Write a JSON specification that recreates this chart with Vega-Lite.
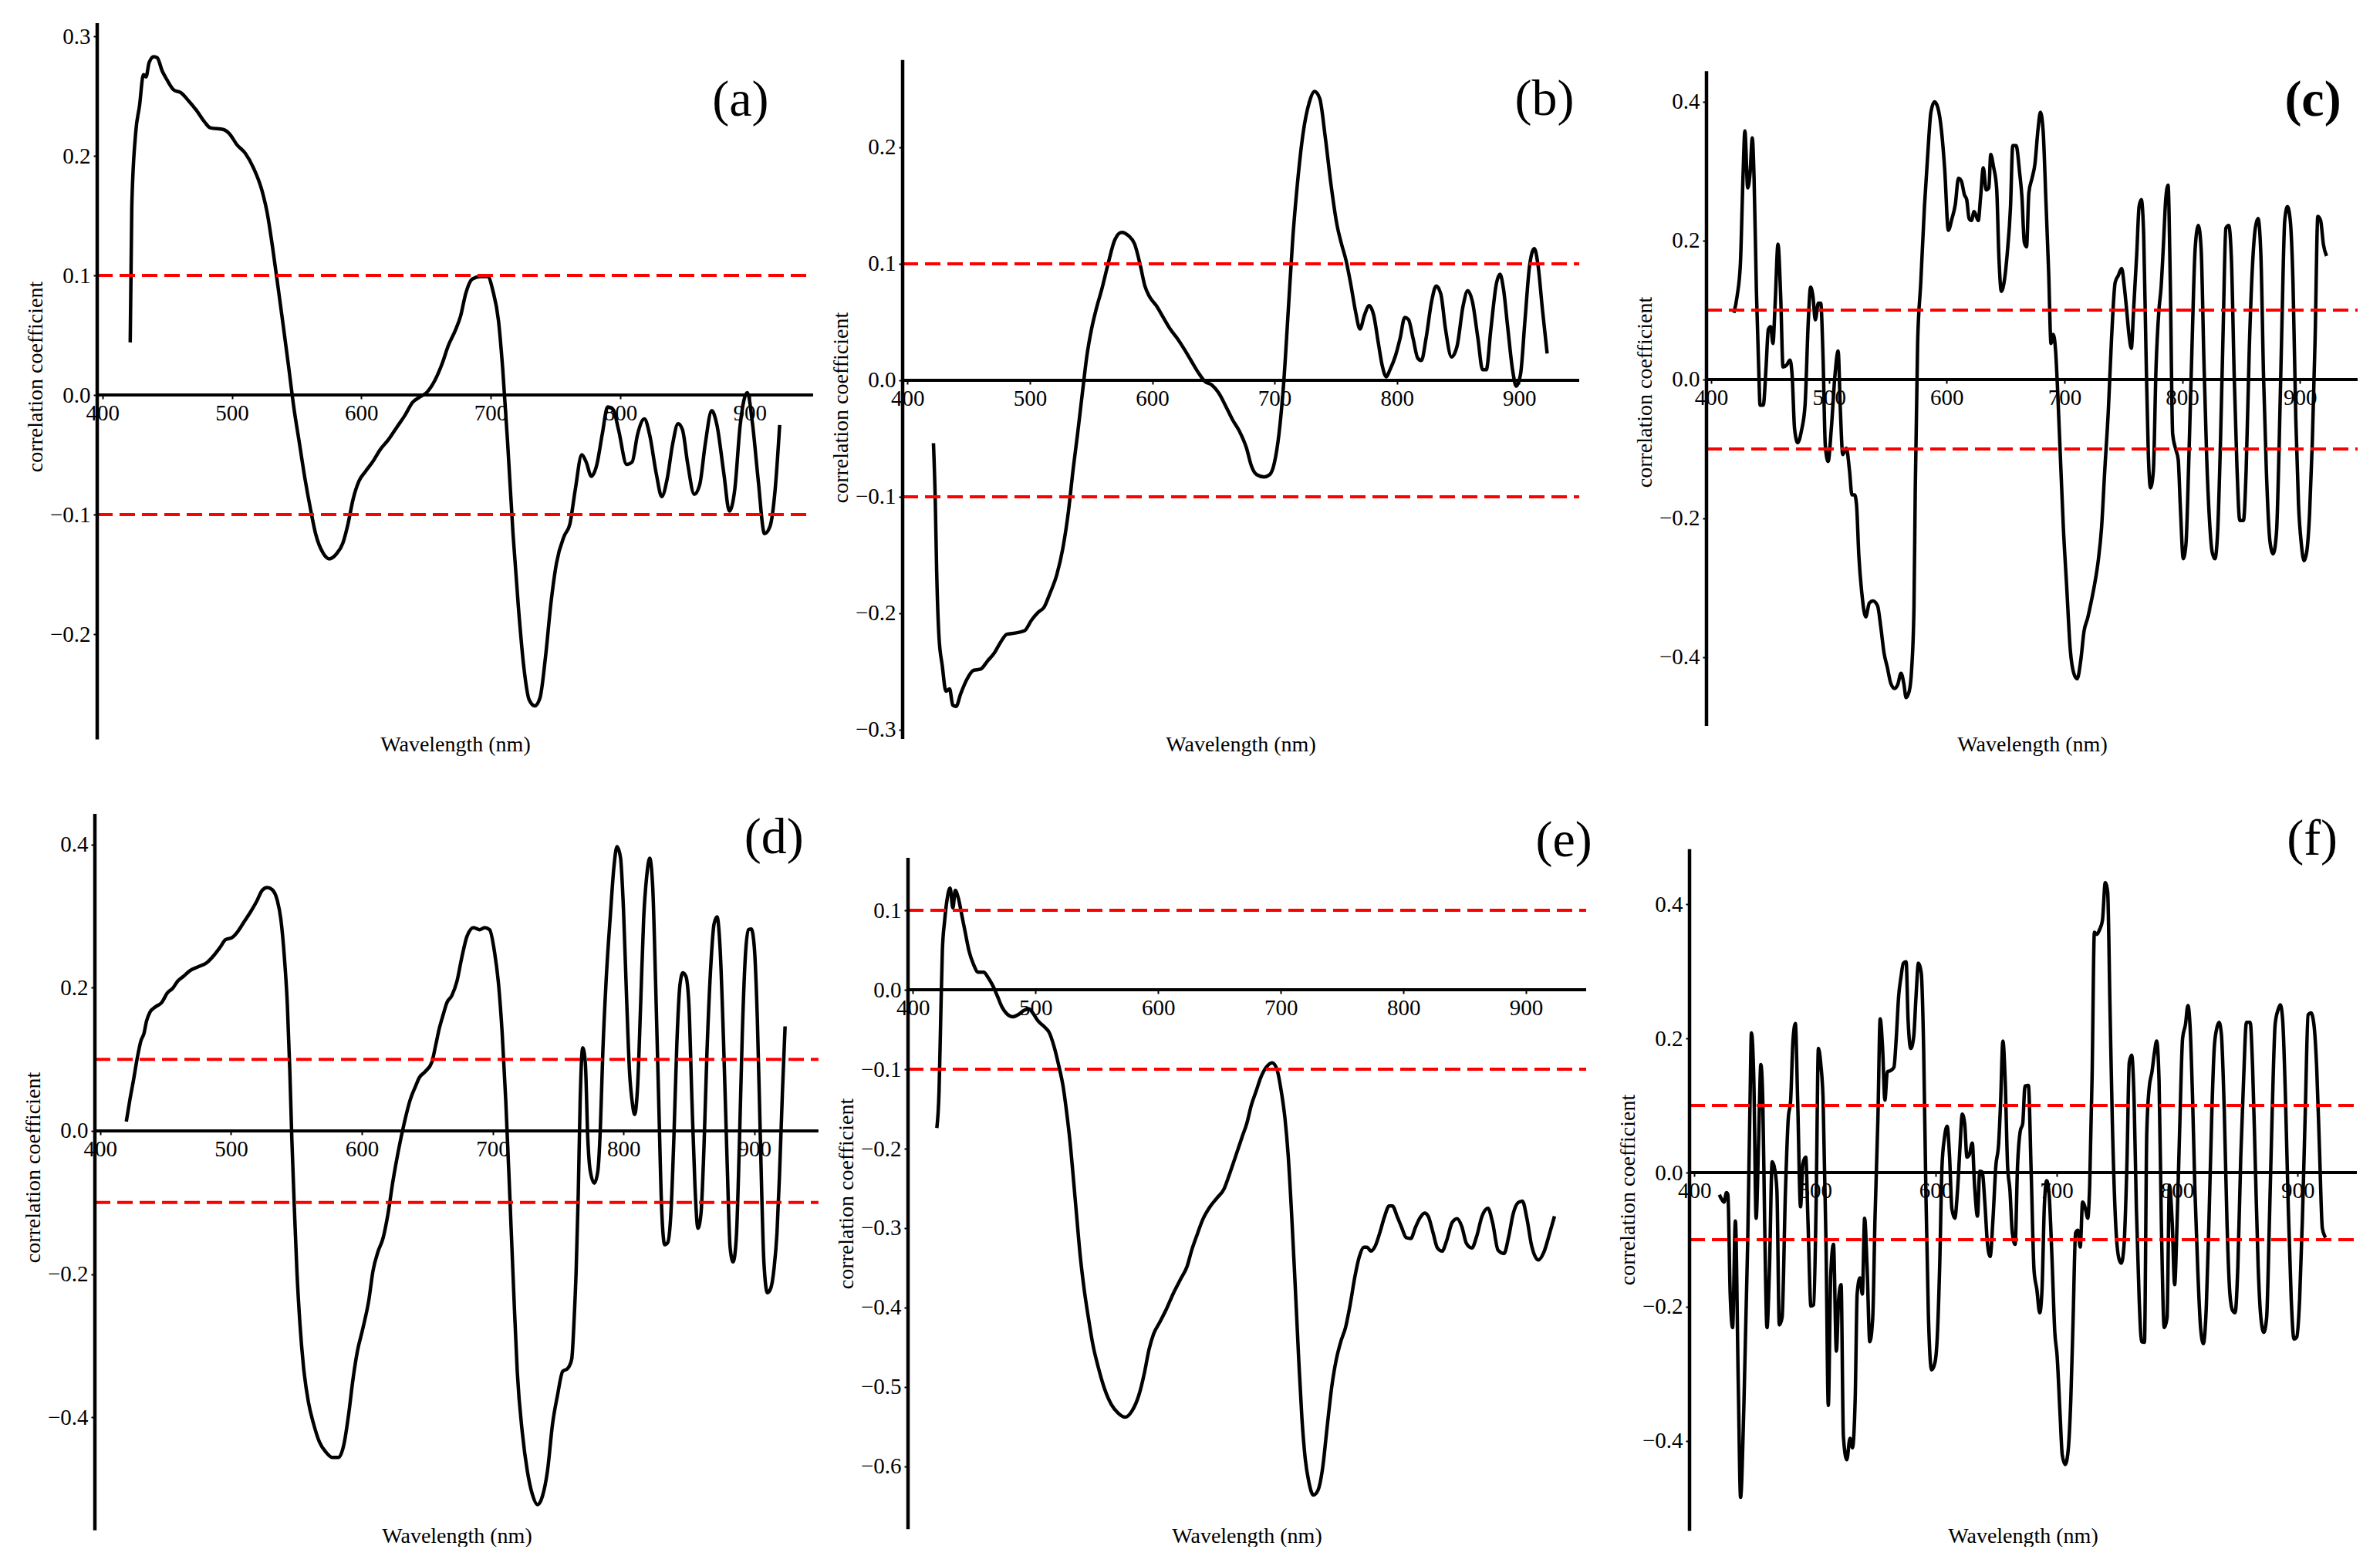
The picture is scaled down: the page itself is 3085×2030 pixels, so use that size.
{
  "$schema": "https://vega.github.io/schema/vega-lite/v6.json",
  "background": "white",
  "padding": {"left": 29, "top": 27, "right": 0, "bottom": 0},
  "columns": 3,
  "bounds": "flush",
  "spacing": {"row": 97, "column": 100},
  "datasets": {
    "a": [
      {"wl":421.5,"r":0.044},{"wl":422.7,"r":0.157},{"wl":425.7,"r":0.219},{"wl":428.7,"r":0.242},{"wl":431.7,"r":0.268},{"wl":433.7,"r":0.266},{"wl":436.1,"r":0.278},{"wl":439.7,"r":0.283},{"wl":442.4,"r":0.282},{"wl":446.2,"r":0.271},{"wl":449.7,"r":0.264},{"wl":455.3,"r":0.255},{"wl":460.4,"r":0.253},{"wl":466.6,"r":0.246},{"wl":472.7,"r":0.238},{"wl":479.2,"r":0.228},{"wl":483.3,"r":0.2235},{"wl":493.7,"r":0.222},{"wl":497.7,"r":0.219},{"wl":504.2,"r":0.209},{"wl":510.5,"r":0.202},{"wl":516.7,"r":0.19},{"wl":523,"r":0.172},{"wl":527.2,"r":0.153},{"wl":531.4,"r":0.124},{"wl":535.6,"r":0.091},{"wl":539.7,"r":0.058},{"wl":543.7,"r":0.025},{"wl":548.1,"r":-0.012},{"wl":552.3,"r":-0.041},{"wl":556.5,"r":-0.07},{"wl":560.7,"r":-0.095},{"wl":564.7,"r":-0.116},{"wl":570.4,"r":-0.132},{"wl":575.2,"r":-0.137},{"wl":580.7,"r":-0.133},{"wl":585.7,"r":-0.124},{"wl":589.7,"r":-0.108},{"wl":593.7,"r":-0.087},{"wl":598.2,"r":-0.072},{"wl":603.2,"r":-0.064},{"wl":608.7,"r":-0.056},{"wl":614.7,"r":-0.0455},{"wl":621.2,"r":-0.037},{"wl":627.4,"r":-0.027},{"wl":633.7,"r":-0.017},{"wl":639.7,"r":-0.006},{"wl":644.7,"r":-0.002},{"wl":650.4,"r":0.002},{"wl":656.7,"r":0.012},{"wl":662.7,"r":0.027},{"wl":667.1,"r":0.041},{"wl":672.6,"r":0.054},{"wl":676.7,"r":0.066},{"wl":680.7,"r":0.085},{"wl":685.7,"r":0.097},{"wl":692.2,"r":0.099},{"wl":697.7,"r":0.099},{"wl":701.7,"r":0.087},{"wl":706,"r":0.062},{"wl":709.3,"r":0.021},{"wl":713.1,"r":-0.041},{"wl":717.2,"r":-0.116},{"wl":721.4,"r":-0.178},{"wl":725.6,"r":-0.228},{"wl":729.7,"r":-0.255},{"wl":734,"r":-0.26},{"wl":738.1,"r":-0.253},{"wl":742.3,"r":-0.219},{"wl":746.5,"r":-0.174},{"wl":750.7,"r":-0.141},{"wl":756.7,"r":-0.118},{"wl":761.1,"r":-0.108},{"wl":765.3,"r":-0.079},{"wl":770.3,"r":-0.05},{"wl":773.7,"r":-0.056},{"wl":777.7,"r":-0.068},{"wl":782,"r":-0.058},{"wl":786.1,"r":-0.033},{"wl":790.3,"r":-0.01},{"wl":794.5,"r":-0.012},{"wl":798.7,"r":-0.029},{"wl":805,"r":-0.058},{"wl":809.2,"r":-0.056},{"wl":813.4,"r":-0.033},{"wl":818.7,"r":-0.02},{"wl":822.7,"r":-0.033},{"wl":827.9,"r":-0.066},{"wl":832.1,"r":-0.085},{"wl":836.3,"r":-0.07},{"wl":840.5,"r":-0.041},{"wl":844.7,"r":-0.024},{"wl":848.1,"r":-0.029},{"wl":852.2,"r":-0.058},{"wl":857.2,"r":-0.083},{"wl":861.4,"r":-0.075},{"wl":865.7,"r":-0.041},{"wl":870.7,"r":-0.013},{"wl":874.7,"r":-0.025},{"wl":880.1,"r":-0.066},{"wl":884.3,"r":-0.097},{"wl":888.5,"r":-0.079},{"wl":892.7,"r":-0.025},{"wl":898.2,"r":0.002},{"wl":902.3,"r":-0.025},{"wl":906.5,"r":-0.07},{"wl":911.5,"r":-0.116},{"wl":915.7,"r":-0.11},{"wl":919.7,"r":-0.079},{"wl":923.2,"r":-0.025}
    ],
    "b": [
      {"wl":421.2,"r":-0.054},{"wl":422.7,"r":-0.104},{"wl":423.8,"r":-0.163},{"wl":425.7,"r":-0.22},{"wl":428.4,"r":-0.245},{"wl":431.4,"r":-0.267},{"wl":434.4,"r":-0.265},{"wl":437,"r":-0.279},{"wl":439.7,"r":-0.28},{"wl":443.5,"r":-0.269},{"wl":448.4,"r":-0.257},{"wl":454,"r":-0.249},{"wl":459.7,"r":-0.248},{"wl":465.4,"r":-0.241},{"wl":471,"r":-0.234},{"wl":476,"r":-0.225},{"wl":481.3,"r":-0.218},{"wl":488,"r":-0.217},{"wl":495.7,"r":-0.215},{"wl":501.3,"r":-0.206},{"wl":507,"r":-0.199},{"wl":511.5,"r":-0.195},{"wl":516.4,"r":-0.183},{"wl":522,"r":-0.167},{"wl":527,"r":-0.144},{"wl":531.6,"r":-0.112},{"wl":535.3,"r":-0.077},{"wl":539,"r":-0.046},{"wl":542.9,"r":-0.011},{"wl":546.6,"r":0.021},{"wl":550.4,"r":0.044},{"wl":554.2,"r":0.061},{"wl":559,"r":0.079},{"wl":563.7,"r":0.099},{"wl":569.4,"r":0.1205},{"wl":575,"r":0.127},{"wl":580.7,"r":0.124},{"wl":585.6,"r":0.117},{"wl":590.2,"r":0.099},{"wl":594,"r":0.081},{"wl":597.7,"r":0.072},{"wl":603.4,"r":0.064},{"wl":609,"r":0.054},{"wl":614.7,"r":0.044},{"wl":620.4,"r":0.036},{"wl":626,"r":0.027},{"wl":631.7,"r":0.017},{"wl":637.4,"r":0.007},{"wl":643,"r":-0.001},{"wl":648.7,"r":-0.004},{"wl":654.4,"r":-0.011},{"wl":660,"r":-0.022},{"wl":665.7,"r":-0.034},{"wl":671.4,"r":-0.044},{"wl":677,"r":-0.058},{"wl":680.9,"r":-0.073},{"wl":685.4,"r":-0.081},{"wl":691.5,"r":-0.083},{"wl":696,"r":-0.081},{"wl":699.8,"r":-0.071},{"wl":703.6,"r":-0.046},{"wl":707.4,"r":-0.003},{"wl":711.2,"r":0.06},{"wl":714.9,"r":0.122},{"wl":718.7,"r":0.169},{"wl":723.3,"r":0.212},{"wl":728.2,"r":0.238},{"wl":732.7,"r":0.248},{"wl":736.9,"r":0.242},{"wl":741.4,"r":0.209},{"wl":746,"r":0.169},{"wl":750.9,"r":0.134},{"wl":754.7,"r":0.117},{"wl":758.4,"r":0.103},{"wl":762.2,"r":0.083},{"wl":766,"r":0.06},{"wl":769.8,"r":0.044},{"wl":773.5,"r":0.056},{"wl":777.3,"r":0.064},{"wl":781,"r":0.056},{"wl":784.8,"r":0.032},{"wl":787.9,"r":0.013},{"wl":791.3,"r":0.003},{"wl":794.3,"r":0.009},{"wl":798.8,"r":0.021},{"wl":802.6,"r":0.036},{"wl":806.4,"r":0.054},{"wl":809.5,"r":0.052},{"wl":813.2,"r":0.036},{"wl":817,"r":0.019},{"wl":820,"r":0.017},{"wl":823.8,"r":0.036},{"wl":828.4,"r":0.068},{"wl":832.1,"r":0.081},{"wl":835.9,"r":0.074},{"wl":839.7,"r":0.044},{"wl":844.6,"r":0.02},{"wl":849.1,"r":0.029},{"wl":854.1,"r":0.064},{"wl":857.9,"r":0.077},{"wl":861.6,"r":0.068},{"wl":866.2,"r":0.036},{"wl":870,"r":0.009},{"wl":873,"r":0.009},{"wl":876.8,"r":0.044},{"wl":881.3,"r":0.083},{"wl":884.3,"r":0.091},{"wl":887,"r":0.079},{"wl":890.7,"r":0.044},{"wl":894.5,"r":0.009},{"wl":897.5,"r":-0.005},{"wl":901,"r":0.005},{"wl":904.7,"r":0.052},{"wl":908.5,"r":0.099},{"wl":912.3,"r":0.113},{"wl":915.3,"r":0.099},{"wl":919,"r":0.06},{"wl":922.8,"r":0.023}
    ],
    "c": [
      {"wl":419.3,"r":0.096},{"wl":422,"r":0.12},{"wl":424.8,"r":0.167},{"wl":427.1,"r":0.297},{"wl":428.6,"r":0.358},{"wl":431,"r":0.276},{"wl":433,"r":0.297},{"wl":434.9,"r":0.348},{"wl":436.4,"r":0.29},{"wl":438.4,"r":0.127},{"wl":440.3,"r":0.018},{"wl":441.5,"r":-0.037},{"wl":444.2,"r":-0.037},{"wl":446.6,"r":0.018},{"wl":448.5,"r":0.072},{"wl":450.5,"r":0.076},{"wl":452.4,"r":0.052},{"wl":454.4,"r":0.113},{"wl":456.7,"r":0.195},{"wl":459,"r":0.12},{"wl":461,"r":0.018},{"wl":464.1,"r":0.021},{"wl":466.9,"r":0.028},{"wl":468.8,"r":0.004},{"wl":470.8,"r":-0.071},{"wl":473.5,"r":-0.091},{"wl":476.6,"r":-0.074},{"wl":479.7,"r":-0.037},{"wl":482.5,"r":0.086},{"wl":484.4,"r":0.133},{"wl":486.4,"r":0.12},{"wl":488.4,"r":0.086},{"wl":491,"r":0.11},{"wl":493,"r":0.11},{"wl":495,"r":0.031},{"wl":496.9,"r":-0.095},{"wl":499.3,"r":-0.118},{"wl":502,"r":-0.071},{"wl":505,"r":0.004},{"wl":507.8,"r":0.041},{"wl":509.7,"r":-0.044},{"wl":511.7,"r":-0.108},{"wl":514.8,"r":-0.099},{"wl":517.5,"r":-0.132},{"wl":519.5,"r":-0.166},{"wl":521.8,"r":-0.166},{"wl":523.4,"r":-0.18},{"wl":525.4,"r":-0.254},{"wl":528,"r":-0.309},{"wl":531.2,"r":-0.342},{"wl":534.3,"r":-0.322},{"wl":537.4,"r":-0.319},{"wl":541.3,"r":-0.326},{"wl":544,"r":-0.356},{"wl":546.8,"r":-0.394},{"wl":549.5,"r":-0.414},{"wl":552.6,"r":-0.438},{"wl":555.8,"r":-0.445},{"wl":558.5,"r":-0.439},{"wl":561.2,"r":-0.423},{"wl":563.6,"r":-0.438},{"wl":565.5,"r":-0.458},{"wl":568.3,"r":-0.448},{"wl":570.2,"r":-0.418},{"wl":572.2,"r":-0.329},{"wl":573.3,"r":-0.159},{"wl":575.3,"r":0.052},{"wl":578,"r":0.14},{"wl":581.1,"r":0.249},{"wl":583.9,"r":0.324},{"wl":586.6,"r":0.385},{"wl":589.7,"r":0.4},{"wl":592.4,"r":0.392},{"wl":595.6,"r":0.358},{"wl":598.3,"r":0.303},{"wl":601.4,"r":0.215},{"wl":604.5,"r":0.232},{"wl":607.3,"r":0.252},{"wl":610,"r":0.29},{"wl":612.4,"r":0.286},{"wl":615.1,"r":0.266},{"wl":617,"r":0.259},{"wl":619,"r":0.232},{"wl":621,"r":0.229},{"wl":623.3,"r":0.242},{"wl":626.8,"r":0.229},{"wl":628.8,"r":0.263},{"wl":631.1,"r":0.305},{"wl":633.5,"r":0.273},{"wl":635.8,"r":0.276},{"wl":637.4,"r":0.324},{"wl":639.7,"r":0.307},{"wl":642.4,"r":0.276},{"wl":644.4,"r":0.174},{"wl":646.4,"r":0.127},{"wl":649.1,"r":0.144},{"wl":651.4,"r":0.181},{"wl":654.2,"r":0.249},{"wl":656.1,"r":0.337},{"wl":658.9,"r":0.337},{"wl":662,"r":0.297},{"wl":663.9,"r":0.263},{"wl":665.9,"r":0.198},{"wl":667.8,"r":0.191},{"wl":669.8,"r":0.269},{"wl":672.5,"r":0.29},{"wl":674.9,"r":0.31},{"wl":677.6,"r":0.361},{"wl":679.6,"r":0.385},{"wl":681.9,"r":0.358},{"wl":684.3,"r":0.256},{"wl":686.6,"r":0.154},{"wl":688.6,"r":0.052},{"wl":690.5,"r":0.065},{"wl":692.5,"r":0.041},{"wl":694.4,"r":-0.023},{"wl":696.4,"r":-0.105},{"wl":699.1,"r":-0.214},{"wl":701.8,"r":-0.295},{"wl":705,"r":-0.39},{"wl":708.1,"r":-0.424},{"wl":710.8,"r":-0.431},{"wl":713.9,"r":-0.404},{"wl":716.6,"r":-0.363},{"wl":719.8,"r":-0.343},{"wl":722.5,"r":-0.322},{"wl":725.6,"r":-0.295},{"wl":728.7,"r":-0.261},{"wl":731.5,"r":-0.214},{"wl":734.2,"r":-0.132},{"wl":737.3,"r":-0.044},{"wl":740,"r":0.059},{"wl":743.1,"r":0.14},{"wl":745.8,"r":0.15},{"wl":748.6,"r":0.16},{"wl":750.9,"r":0.133},{"wl":752.9,"r":0.099},{"wl":754.8,"r":0.065},{"wl":756.8,"r":0.045},{"wl":758.7,"r":0.099},{"wl":761.4,"r":0.181},{"wl":763.4,"r":0.249},{"wl":765.3,"r":0.259},{"wl":767.3,"r":0.208},{"wl":769.2,"r":0.045},{"wl":771.2,"r":-0.105},{"wl":773.1,"r":-0.156},{"wl":775.5,"r":-0.132},{"wl":777.8,"r":0.018},{"wl":780.2,"r":0.099},{"wl":782.1,"r":0.133},{"wl":784.1,"r":0.195},{"wl":786,"r":0.259},{"wl":788,"r":0.28},{"wl":789.9,"r":0.14},{"wl":791.9,"r":-0.078},{"wl":794.6,"r":-0.101},{"wl":796.6,"r":-0.115},{"wl":798.5,"r":-0.186},{"wl":800.9,"r":-0.258},{"wl":803.2,"r":-0.237},{"wl":805.6,"r":-0.118},{"wl":808.3,"r":0.045},{"wl":811,"r":0.188},{"wl":813.7,"r":0.222},{"wl":816.1,"r":0.188},{"wl":818.4,"r":0.031},{"wl":820.8,"r":-0.112},{"wl":823.1,"r":-0.2},{"wl":825.4,"r":-0.248},{"wl":827.8,"r":-0.258},{"wl":830.1,"r":-0.22},{"wl":832.5,"r":-0.091},{"wl":834.8,"r":0.072},{"wl":837.1,"r":0.218},{"wl":839.5,"r":0.222},{"wl":841.8,"r":0.174},{"wl":844.2,"r":0.004},{"wl":846.5,"r":-0.125},{"wl":848.9,"r":-0.203},{"wl":852,"r":-0.203},{"wl":854.3,"r":-0.132},{"wl":857,"r":0.045},{"wl":859.8,"r":0.167},{"wl":862.1,"r":0.218},{"wl":864.4,"r":0.232},{"wl":866.8,"r":0.181},{"wl":869.1,"r":0.004},{"wl":871.5,"r":-0.132},{"wl":874.6,"r":-0.234},{"wl":877.3,"r":-0.251},{"wl":880.1,"r":-0.22},{"wl":882.4,"r":-0.091},{"wl":884.7,"r":0.079},{"wl":887.1,"r":0.229},{"wl":889.4,"r":0.249},{"wl":891.8,"r":0.229},{"wl":894.1,"r":0.14},{"wl":896.5,"r":-0.057},{"wl":898.8,"r":-0.18},{"wl":901.2,"r":-0.237},{"wl":903.5,"r":-0.261},{"wl":905.8,"r":-0.248},{"wl":908.2,"r":-0.193},{"wl":910.5,"r":-0.091},{"wl":912.9,"r":0.059},{"wl":915.2,"r":0.235},{"wl":917.6,"r":0.229},{"wl":919.9,"r":0.195},{"wl":922.6,"r":0.178}
    ],
    "d": [
      {"wl":420,"r":0.013},{"wl":422.7,"r":0.043},{"wl":425.4,"r":0.07},{"wl":428.5,"r":0.103},{"wl":431.2,"r":0.126},{"wl":433.5,"r":0.136},{"wl":435.4,"r":0.153},{"wl":438.1,"r":0.166},{"wl":442,"r":0.173},{"wl":446.9,"r":0.179},{"wl":451.5,"r":0.193},{"wl":455.4,"r":0.199},{"wl":459.2,"r":0.209},{"wl":463.8,"r":0.216},{"wl":468.8,"r":0.224},{"wl":474.6,"r":0.229},{"wl":481.5,"r":0.235},{"wl":487.3,"r":0.246},{"wl":491.9,"r":0.257},{"wl":495.8,"r":0.267},{"wl":500.8,"r":0.27},{"wl":505.4,"r":0.279},{"wl":510,"r":0.292},{"wl":515,"r":0.306},{"wl":520,"r":0.322},{"wl":523.8,"r":0.336},{"wl":527.7,"r":0.34},{"wl":531.5,"r":0.337},{"wl":535.4,"r":0.322},{"wl":538.1,"r":0.296},{"wl":540.8,"r":0.243},{"wl":543.1,"r":0.176},{"wl":545,"r":0.083},{"wl":546.5,"r":-0.01},{"wl":548.5,"r":-0.11},{"wl":550.4,"r":-0.196},{"wl":552.7,"r":-0.269},{"wl":555.4,"r":-0.329},{"wl":559.2,"r":-0.379},{"wl":563.1,"r":-0.409},{"wl":567.7,"r":-0.435},{"wl":572.7,"r":-0.449},{"wl":577.3,"r":-0.456},{"wl":582.3,"r":-0.456},{"wl":586.2,"r":-0.439},{"wl":590,"r":-0.395},{"wl":593.1,"r":-0.349},{"wl":596.5,"r":-0.309},{"wl":600.8,"r":-0.276},{"wl":605.4,"r":-0.236},{"wl":608.5,"r":-0.196},{"wl":612.3,"r":-0.169},{"wl":616.2,"r":-0.15},{"wl":620,"r":-0.116},{"wl":623.8,"r":-0.07},{"wl":627.7,"r":-0.03},{"wl":632.3,"r":0.01},{"wl":636.9,"r":0.043},{"wl":641.2,"r":0.063},{"wl":643.8,"r":0.074},{"wl":648.5,"r":0.083},{"wl":653.5,"r":0.096},{"wl":656.5,"r":0.12},{"wl":659.2,"r":0.143},{"wl":662.3,"r":0.163},{"wl":665,"r":0.179},{"wl":668.8,"r":0.189},{"wl":672.7,"r":0.209},{"wl":676.5,"r":0.243},{"wl":680.4,"r":0.272},{"wl":685.4,"r":0.284},{"wl":690,"r":0.281},{"wl":693.8,"r":0.284},{"wl":697.7,"r":0.281},{"wl":701.5,"r":0.249},{"wl":704.6,"r":0.203},{"wl":707.3,"r":0.136},{"wl":710,"r":0.043},{"wl":713.1,"r":-0.09},{"wl":716.2,"r":-0.229},{"wl":718.8,"r":-0.336},{"wl":722.7,"r":-0.422},{"wl":726.5,"r":-0.475},{"wl":730.4,"r":-0.508},{"wl":734.2,"r":-0.522},{"wl":738.1,"r":-0.51},{"wl":741.9,"r":-0.475},{"wl":745.8,"r":-0.409},{"wl":749.6,"r":-0.369},{"wl":753.5,"r":-0.336},{"wl":757.3,"r":-0.332},{"wl":760.4,"r":-0.319},{"wl":762.3,"r":-0.262},{"wl":763.8,"r":-0.196},{"wl":765.4,"r":-0.09},{"wl":766.9,"r":0.043},{"wl":768.8,"r":0.116},{"wl":770.8,"r":0.096},{"wl":772.7,"r":-0.01},{"wl":774.6,"r":-0.056},{"wl":777.7,"r":-0.073},{"wl":780.4,"r":-0.056},{"wl":782.3,"r":0.003},{"wl":784.2,"r":0.11},{"wl":786.9,"r":0.216},{"wl":790,"r":0.302},{"wl":792.7,"r":0.369},{"wl":795,"r":0.397},{"wl":797.7,"r":0.382},{"wl":800,"r":0.309},{"wl":802.3,"r":0.189},{"wl":804.6,"r":0.083},{"wl":806.9,"r":0.037},{"wl":808.5,"r":0.023},{"wl":810.8,"r":0.063},{"wl":813.1,"r":0.176},{"wl":815.4,"r":0.296},{"wl":817.7,"r":0.355},{"wl":820,"r":0.381},{"wl":822.3,"r":0.342},{"wl":824.6,"r":0.203},{"wl":826.9,"r":0.043},{"wl":829.2,"r":-0.11},{"wl":831.5,"r":-0.159},{"wl":833.8,"r":-0.156},{"wl":836.2,"r":-0.116},{"wl":838.5,"r":-0.01},{"wl":840.8,"r":0.123},{"wl":843.1,"r":0.203},{"wl":845.4,"r":0.221},{"wl":847.7,"r":0.216},{"wl":850,"r":0.176},{"wl":852.3,"r":0.043},{"wl":854.6,"r":-0.076},{"wl":856.9,"r":-0.136},{"wl":859.2,"r":-0.116},{"wl":861.5,"r":-0.023},{"wl":863.8,"r":0.11},{"wl":866.9,"r":0.236},{"wl":869.2,"r":0.289},{"wl":871.5,"r":0.299},{"wl":873.8,"r":0.256},{"wl":876.5,"r":0.123},{"wl":879.2,"r":-0.043},{"wl":881.5,"r":-0.163},{"wl":883.8,"r":-0.183},{"wl":886.2,"r":-0.15},{"wl":888.5,"r":-0.023},{"wl":890.8,"r":0.136},{"wl":893.1,"r":0.243},{"wl":895.4,"r":0.281},{"wl":897.7,"r":0.282},{"wl":900,"r":0.256},{"wl":902.3,"r":0.156},{"wl":904.6,"r":-0.01},{"wl":907.3,"r":-0.183},{"wl":910,"r":-0.226},{"wl":912.7,"r":-0.219},{"wl":915,"r":-0.193},{"wl":917.3,"r":-0.143},{"wl":919.2,"r":-0.063},{"wl":921.5,"r":0.056},{"wl":923.5,"r":0.146}
    ],
    "e": [
      {"wl":419.5,"r":-0.174},{"wl":421.3,"r":-0.128},{"wl":422.5,"r":-0.048},{"wl":424,"r":0.049},{"wl":425.8,"r":0.086},{"wl":427.7,"r":0.112},{"wl":430.3,"r":0.128},{"wl":432.6,"r":0.103},{"wl":434.5,"r":0.125},{"wl":437.1,"r":0.115},{"wl":440.1,"r":0.092},{"wl":442.7,"r":0.072},{"wl":445.7,"r":0.049},{"wl":449.4,"r":0.032},{"wl":453.2,"r":0.022},{"wl":457.7,"r":0.022},{"wl":461.4,"r":0.015},{"wl":465.2,"r":0.005},{"wl":468.9,"r":-0.008},{"wl":472.7,"r":-0.022},{"wl":476.4,"r":-0.03},{"wl":481.3,"r":-0.034},{"wl":486.1,"r":-0.031},{"wl":490.6,"r":-0.026},{"wl":494.4,"r":-0.024},{"wl":498.1,"r":-0.03},{"wl":501.9,"r":-0.039},{"wl":507.5,"r":-0.047},{"wl":511.2,"r":-0.054},{"wl":515,"r":-0.071},{"wl":518.7,"r":-0.094},{"wl":522.5,"r":-0.122},{"wl":525.5,"r":-0.156},{"wl":528.1,"r":-0.191},{"wl":531.1,"r":-0.242},{"wl":533.7,"r":-0.288},{"wl":536.3,"r":-0.333},{"wl":539.3,"r":-0.373},{"wl":543.1,"r":-0.413},{"wl":546.8,"r":-0.447},{"wl":551.3,"r":-0.476},{"wl":556.2,"r":-0.502},{"wl":561.8,"r":-0.522},{"wl":567.4,"r":-0.533},{"wl":573,"r":-0.538},{"wl":578.7,"r":-0.53},{"wl":584.3,"r":-0.51},{"wl":588.8,"r":-0.482},{"wl":592.5,"r":-0.453},{"wl":596.3,"r":-0.433},{"wl":601.1,"r":-0.419},{"wl":606.7,"r":-0.402},{"wl":612.4,"r":-0.382},{"wl":618,"r":-0.365},{"wl":623.6,"r":-0.348},{"wl":627.3,"r":-0.328},{"wl":631.1,"r":-0.311},{"wl":636.7,"r":-0.288},{"wl":642.3,"r":-0.273},{"wl":648,"r":-0.262},{"wl":653.6,"r":-0.251},{"wl":657.3,"r":-0.236},{"wl":661.1,"r":-0.219},{"wl":664.8,"r":-0.202},{"wl":668.5,"r":-0.185},{"wl":672.3,"r":-0.168},{"wl":676,"r":-0.145},{"wl":679.8,"r":-0.128},{"wl":683.5,"r":-0.111},{"wl":688.4,"r":-0.097},{"wl":692.9,"r":-0.092},{"wl":696.6,"r":-0.099},{"wl":700.4,"r":-0.128},{"wl":703.4,"r":-0.162},{"wl":706,"r":-0.208},{"wl":708.6,"r":-0.276},{"wl":711.6,"r":-0.368},{"wl":714.6,"r":-0.465},{"wl":717.2,"r":-0.539},{"wl":719.9,"r":-0.59},{"wl":722.8,"r":-0.619},{"wl":726.6,"r":-0.636},{"wl":730.3,"r":-0.63},{"wl":734.1,"r":-0.602},{"wl":737.8,"r":-0.55},{"wl":741.6,"r":-0.499},{"wl":745.3,"r":-0.465},{"wl":749.1,"r":-0.442},{"wl":752.8,"r":-0.425},{"wl":756.6,"r":-0.396},{"wl":760.3,"r":-0.362},{"wl":764,"r":-0.336},{"wl":767.8,"r":-0.324},{"wl":770.4,"r":-0.324},{"wl":773.4,"r":-0.329},{"wl":777.2,"r":-0.322},{"wl":780.9,"r":-0.305},{"wl":784.7,"r":-0.285},{"wl":788.4,"r":-0.272},{"wl":791,"r":-0.272},{"wl":794.8,"r":-0.285},{"wl":798.5,"r":-0.299},{"wl":802.3,"r":-0.312},{"wl":806,"r":-0.313},{"wl":809.8,"r":-0.299},{"wl":813.5,"r":-0.287},{"wl":817.3,"r":-0.281},{"wl":820.2,"r":-0.285},{"wl":824,"r":-0.305},{"wl":827.7,"r":-0.325},{"wl":831.5,"r":-0.329},{"wl":835.2,"r":-0.316},{"wl":839.7,"r":-0.293},{"wl":843.8,"r":-0.288},{"wl":847.6,"r":-0.298},{"wl":851.3,"r":-0.319},{"wl":855.8,"r":-0.325},{"wl":859.6,"r":-0.311},{"wl":864.1,"r":-0.285},{"wl":868.9,"r":-0.275},{"wl":872.7,"r":-0.293},{"wl":877.2,"r":-0.328},{"wl":882,"r":-0.332},{"wl":885.8,"r":-0.311},{"wl":889.5,"r":-0.282},{"wl":893.5,"r":-0.268},{"wl":897,"r":-0.266},{"wl":900.7,"r":-0.288},{"wl":904.5,"r":-0.322},{"wl":910.1,"r":-0.34},{"wl":914.6,"r":-0.33},{"wl":919.5,"r":-0.305},{"wl":923.2,"r":-0.285}
    ],
    "f": [
      {"wl":420.7,"r":-0.033},{"wl":422.7,"r":-0.04},{"wl":424.6,"r":-0.044},{"wl":426.6,"r":-0.03},{"wl":427.8,"r":-0.033},{"wl":429.7,"r":-0.181},{"wl":431.7,"r":-0.231},{"wl":434,"r":-0.072},{"wl":436.4,"r":-0.315},{"wl":438.3,"r":-0.484},{"wl":441,"r":-0.35},{"wl":444.2,"r":-0.104},{"wl":446.1,"r":0.101},{"wl":447.3,"r":0.208},{"wl":449.3,"r":0.136},{"wl":451.2,"r":-0.068},{"wl":453.2,"r":0.044},{"wl":455.1,"r":0.161},{"wl":456.7,"r":0.108},{"wl":458.2,"r":-0.068},{"wl":460.2,"r":-0.231},{"wl":462.2,"r":-0.146},{"wl":464.5,"r":0.016},{"wl":466.5,"r":0.006},{"wl":468.4,"r":-0.026},{"wl":470.4,"r":-0.227},{"wl":472.7,"r":-0.216},{"wl":475.4,"r":-0.033},{"wl":477.8,"r":0.08},{"wl":479.8,"r":0.108},{"wl":481.7,"r":0.196},{"wl":483.7,"r":0.222},{"wl":485.6,"r":0.108},{"wl":488,"r":-0.051},{"wl":489.9,"r":0.013},{"wl":492.3,"r":0.023},{"wl":494.2,"r":-0.075},{"wl":496.6,"r":-0.199},{"wl":498.9,"r":-0.197},{"wl":500.9,"r":-0.047},{"wl":502.8,"r":0.185},{"wl":504.8,"r":0.161},{"wl":506.7,"r":0.108},{"wl":509.1,"r":-0.104},{"wl":511,"r":-0.347},{"wl":513,"r":-0.153},{"wl":515.3,"r":-0.107},{"wl":517.7,"r":-0.266},{"wl":519.6,"r":-0.188},{"wl":521.6,"r":-0.167},{"wl":523.5,"r":-0.393},{"wl":526.3,"r":-0.428},{"wl":529,"r":-0.396},{"wl":531,"r":-0.41},{"wl":533.3,"r":-0.336},{"wl":534.9,"r":-0.181},{"wl":537.2,"r":-0.157},{"wl":539.2,"r":-0.181},{"wl":541.1,"r":-0.068},{"wl":543.1,"r":-0.139},{"wl":545.4,"r":-0.252},{"wl":547.8,"r":-0.217},{"wl":549.7,"r":-0.068},{"wl":552.1,"r":0.08},{"wl":554,"r":0.229},{"wl":556,"r":0.185},{"wl":557.9,"r":0.108},{"wl":559.9,"r":0.15},{"wl":562.6,"r":0.152},{"wl":565.4,"r":0.157},{"wl":567.3,"r":0.2},{"wl":569.3,"r":0.263},{"wl":571.2,"r":0.291},{"wl":573.2,"r":0.312},{"wl":575.5,"r":0.314},{"wl":577.1,"r":0.228},{"wl":579.4,"r":0.185},{"wl":581.8,"r":0.203},{"wl":583.7,"r":0.263},{"wl":585.7,"r":0.312},{"wl":588,"r":0.298},{"wl":590,"r":0.185},{"wl":591.9,"r":-0.033},{"wl":593.9,"r":-0.209},{"wl":596.6,"r":-0.294},{"wl":599.4,"r":-0.283},{"wl":601.3,"r":-0.245},{"wl":603.3,"r":-0.139},{"wl":605.2,"r":0.009},{"wl":607.2,"r":0.051},{"wl":609.5,"r":0.069},{"wl":611.5,"r":0.023},{"wl":613.4,"r":-0.054},{"wl":615.8,"r":-0.068},{"wl":618.1,"r":-0.026},{"wl":620.1,"r":0.037},{"wl":622,"r":0.087},{"wl":624,"r":0.073},{"wl":625.9,"r":0.023},{"wl":627.9,"r":0.027},{"wl":630.3,"r":0.044},{"wl":632.2,"r":-0.019},{"wl":634.6,"r":-0.065},{"wl":636.5,"r":0.002},{"wl":638.5,"r":0.001},{"wl":640.8,"r":-0.047},{"wl":642.8,"r":-0.104},{"wl":645.1,"r":-0.125},{"wl":647.5,"r":-0.068},{"wl":649.8,"r":0.009},{"wl":652.2,"r":0.044},{"wl":653.7,"r":0.101},{"wl":655.7,"r":0.196},{"wl":657.6,"r":0.136},{"wl":659.6,"r":0.009},{"wl":661.5,"r":-0.026},{"wl":663.5,"r":-0.09},{"wl":665.8,"r":-0.107},{"wl":667.8,"r":0.009},{"wl":670.1,"r":0.062},{"wl":672.1,"r":0.073},{"wl":674,"r":0.129},{"wl":676.8,"r":0.13},{"wl":679.1,"r":0.002},{"wl":681.5,"r":-0.146},{"wl":683.8,"r":-0.174},{"wl":686.2,"r":-0.209},{"wl":688.1,"r":-0.174},{"wl":690.1,"r":-0.047},{"wl":692,"r":-0.012},{"wl":694,"r":-0.033},{"wl":696.3,"r":-0.125},{"wl":698.7,"r":-0.238},{"wl":700.6,"r":-0.273},{"wl":703,"r":-0.358},{"wl":704.9,"r":-0.421},{"wl":707.3,"r":-0.435},{"wl":709.6,"r":-0.417},{"wl":712,"r":-0.336},{"wl":713.9,"r":-0.216},{"wl":715.9,"r":-0.09},{"wl":717.8,"r":-0.086},{"wl":719.8,"r":-0.111},{"wl":721.7,"r":-0.044},{"wl":724.1,"r":-0.054},{"wl":726,"r":-0.068},{"wl":727.6,"r":-0.019},{"wl":729.6,"r":0.143},{"wl":731.5,"r":0.358},{"wl":733.5,"r":0.355},{"wl":735.8,"r":0.362},{"wl":738.2,"r":0.376},{"wl":740.5,"r":0.432},{"wl":742.5,"r":0.418},{"wl":744.4,"r":0.249},{"wl":746.4,"r":0.073},{"wl":749.1,"r":-0.075},{"wl":751.8,"r":-0.128},{"wl":753.8,"r":-0.135},{"wl":756.1,"r":-0.107},{"wl":758.5,"r":0.016},{"wl":760.4,"r":0.164},{"wl":762.4,"r":0.175},{"wl":764.4,"r":0.108},{"wl":766.3,"r":-0.054},{"wl":768.6,"r":-0.188},{"wl":770.6,"r":-0.252},{"wl":773,"r":-0.253},{"wl":774.9,"r":0.059},{"wl":776.9,"r":0.126},{"wl":779.2,"r":0.15},{"wl":781.2,"r":0.178},{"wl":783.1,"r":0.196},{"wl":785.1,"r":0.136},{"wl":787,"r":-0.075},{"wl":789.4,"r":-0.231},{"wl":791.7,"r":-0.217},{"wl":793.7,"r":-0.019},{"wl":796,"r":-0.075},{"wl":798,"r":-0.167},{"wl":800,"r":-0.075},{"wl":802.3,"r":0.073},{"wl":804.6,"r":0.2},{"wl":807,"r":0.221},{"wl":809,"r":0.249},{"wl":810.9,"r":0.214},{"wl":812.9,"r":0.108},{"wl":814.8,"r":-0.026},{"wl":817.2,"r":-0.146},{"wl":819.5,"r":-0.231},{"wl":821.8,"r":-0.255},{"wl":824.2,"r":-0.202},{"wl":826.5,"r":-0.068},{"wl":828.9,"r":0.094},{"wl":830.8,"r":0.185},{"wl":832.8,"r":0.214},{"wl":834.8,"r":0.224},{"wl":836.7,"r":0.207},{"wl":839.1,"r":0.094},{"wl":841.4,"r":-0.075},{"wl":843.8,"r":-0.181},{"wl":846.1,"r":-0.206},{"wl":848.1,"r":-0.209},{"wl":850.4,"r":-0.139},{"wl":852.8,"r":0.023},{"wl":855.1,"r":0.136},{"wl":857.5,"r":0.224},{"wl":860.6,"r":0.224},{"wl":862.6,"r":0.157},{"wl":864.8,"r":0.016},{"wl":867.2,"r":-0.139},{"wl":869.5,"r":-0.217},{"wl":871.9,"r":-0.238},{"wl":874.2,"r":-0.217},{"wl":876.6,"r":-0.068},{"wl":878.9,"r":0.094},{"wl":881.3,"r":0.221},{"wl":883.6,"r":0.242},{"wl":885.6,"r":0.25},{"wl":887.5,"r":0.228},{"wl":889.9,"r":0.108},{"wl":892.2,"r":-0.054},{"wl":894.6,"r":-0.188},{"wl":896.9,"r":-0.248},{"wl":899.2,"r":-0.245},{"wl":901.6,"r":-0.188},{"wl":903.9,"r":-0.068},{"wl":906.3,"r":0.094},{"wl":908.6,"r":0.235},{"wl":911,"r":0.238},{"wl":913.4,"r":0.221},{"wl":915.7,"r":0.157},{"wl":918,"r":0.037},{"wl":920.4,"r":-0.083},{"wl":923.1,"r":-0.097}
    ]
  },
  "concat": [
    {
      "width": 947, "height": 928,
      "layer": [
        {"data": {"name": "a"}, "mark": {"type": "line", "color": "black", "strokeWidth": 4.5, "interpolate": "monotone"},
         "encoding": {
           "x": {"field": "wl", "type": "quantitative", "scale": {"domain": [394.21, 958.57], "nice": false, "zero": false},
                 "axis": {"values": [400, 500, 600, 700, 800, 900], "format": "d", "offset": -446, "title": "Wavelength (nm)", "titleX": 467, "titleY": 453}},
           "y": {"field": "r", "type": "quantitative", "scale": {"domain": [-0.2877, 0.311], "nice": false, "zero": false},
                 "axis": {"values": [-0.2, -0.1, 0, 0.1, 0.2, 0.3], "format": ".1f", "offset": -3, "title": "correlation coefficient", "titleX": -80, "titleY": 458}}}},
        {"data": {"values": [{}]}, "mark": {"type": "rule", "color": "#ff0000", "strokeWidth": 4, "strokeDash": [20, 9]},
         "encoding": {"x": {"datum": 396}, "x2": {"datum": 949}, "y": {"datum": 0.1}}},
        {"data": {"values": [{}]}, "mark": {"type": "rule", "color": "#ff0000", "strokeWidth": 4, "strokeDash": [20, 9]},
         "encoding": {"x": {"datum": 396}, "x2": {"datum": 949}, "y": {"datum": -0.1}}},
        {"data": {"values": [{}]}, "mark": {"type": "rule", "color": "black", "strokeWidth": 4},
         "encoding": {"x": {"datum": 396}, "x2": {"datum": 949}, "y": {"datum": 0}}},
        {"data": {"values": [{}]}, "mark": {"type": "rule", "color": "black", "strokeWidth": 4.5},
         "encoding": {"x": {"datum": 396}, "y": {"datum": -0.288}, "y2": {"datum": 0.311}}},
        {"data": {"values": [{}]}, "mark": {"type": "text", "text": "(a)", "fontSize": 66, "font": "Liberation Serif", "baseline": "middle"},
         "encoding": {"x": {"datum": 893}, "y": {"datum": 0.2465}}}
      ]
    },
    {
      "width": 920, "height": 928,
      "layer": [
        {"data": {"name": "b"}, "mark": {"type": "line", "color": "black", "strokeWidth": 4.5, "interpolate": "monotone"},
         "encoding": {
           "x": {"field": "wl", "type": "quantitative", "scale": {"domain": [396, 976.1], "nice": false, "zero": false},
                 "axis": {"values": [400, 500, 600, 700, 800, 900], "format": "d", "offset": -465, "title": "Wavelength (nm)", "titleX": 438, "titleY": 472}},
           "y": {"field": "r", "type": "quantitative", "scale": {"domain": [-0.308, 0.3066], "nice": false, "zero": false},
                 "axis": {"values": [-0.3, -0.2, -0.1, 0, 0.1, 0.2], "format": ".1f", "offset": 0, "title": "correlation coefficient", "titleX": -80, "titleY": 498}}}},
        {"data": {"values": [{}]}, "mark": {"type": "rule", "color": "#ff0000", "strokeWidth": 4, "strokeDash": [20, 9]},
         "encoding": {"x": {"datum": 396}, "x2": {"datum": 949}, "y": {"datum": 0.1}}},
        {"data": {"values": [{}]}, "mark": {"type": "rule", "color": "#ff0000", "strokeWidth": 4, "strokeDash": [20, 9]},
         "encoding": {"x": {"datum": 396}, "x2": {"datum": 949}, "y": {"datum": -0.1}}},
        {"data": {"values": [{}]}, "mark": {"type": "rule", "color": "black", "strokeWidth": 4},
         "encoding": {"x": {"datum": 396}, "x2": {"datum": 949}, "y": {"datum": 0}}},
        {"data": {"values": [{}]}, "mark": {"type": "rule", "color": "black", "strokeWidth": 4.5},
         "encoding": {"x": {"datum": 396}, "y": {"datum": -0.308}, "y2": {"datum": 0.275}}},
        {"data": {"values": [{}]}, "mark": {"type": "text", "text": "(b)", "fontSize": 66, "font": "Liberation Serif", "baseline": "middle"},
         "encoding": {"x": {"datum": 920.6}, "y": {"datum": 0.241}}}
      ]
    },
    {
      "width": 866, "height": 928,
      "layer": [
        {"data": {"name": "c"}, "mark": {"type": "line", "color": "black", "strokeWidth": 4.5, "interpolate": "monotone"},
         "encoding": {
           "x": {"field": "wl", "type": "quantitative", "scale": {"domain": [381.59, 949.0], "nice": false, "zero": false},
                 "axis": {"values": [400, 500, 600, 700, 800, 900], "format": "d", "offset": -466, "title": "Wavelength (nm)", "titleX": 444, "titleY": 473}},
           "y": {"field": "r", "type": "quantitative", "scale": {"domain": [-0.5178, 0.5133], "nice": false, "zero": false},
                 "axis": {"values": [-0.4, -0.2, 0, 0.2, 0.4], "format": ".1f", "offset": -22, "title": "correlation coefficient", "titleX": -80, "titleY": 478}}}},
        {"data": {"values": [{}]}, "mark": {"type": "rule", "color": "#ff0000", "strokeWidth": 4, "strokeDash": [20, 9]},
         "encoding": {"x": {"datum": 396}, "x2": {"datum": 949}, "y": {"datum": 0.1}}},
        {"data": {"values": [{}]}, "mark": {"type": "rule", "color": "#ff0000", "strokeWidth": 4, "strokeDash": [20, 9]},
         "encoding": {"x": {"datum": 396}, "x2": {"datum": 949}, "y": {"datum": -0.1}}},
        {"data": {"values": [{}]}, "mark": {"type": "rule", "color": "black", "strokeWidth": 4},
         "encoding": {"x": {"datum": 396}, "x2": {"datum": 949}, "y": {"datum": 0}}},
        {"data": {"values": [{}]}, "mark": {"type": "rule", "color": "black", "strokeWidth": 4.5},
         "encoding": {"x": {"datum": 396}, "y": {"datum": -0.499}, "y2": {"datum": 0.444}}},
        {"data": {"values": [{}]}, "mark": {"type": "text", "text": "(c)", "fontSize": 66, "font": "Liberation Serif", "fontWeight": "bold", "baseline": "middle"},
         "encoding": {"x": {"datum": 911}, "y": {"datum": 0.402}}}
      ]
    },
    {
      "width": 947, "height": 930,
      "layer": [
        {"data": {"name": "d"}, "mark": {"type": "line", "color": "black", "strokeWidth": 4.5, "interpolate": "monotone"},
         "encoding": {
           "x": {"field": "wl", "type": "quantitative", "scale": {"domain": [396, 954.37], "nice": false, "zero": false},
                 "axis": {"values": [400, 500, 600, 700, 800, 900], "format": "d", "offset": -519, "title": "Wavelength (nm)", "titleX": 469, "titleY": 525}},
           "y": {"field": "r", "type": "quantitative", "scale": {"domain": [-0.5593, 0.4429], "nice": false, "zero": false},
                 "axis": {"values": [-0.4, -0.2, 0, 0.2, 0.4], "format": ".1f", "offset": 0, "title": "correlation coefficient", "titleX": -80, "titleY": 458}}}},
        {"data": {"values": [{}]}, "mark": {"type": "rule", "color": "#ff0000", "strokeWidth": 4, "strokeDash": [20, 9]},
         "encoding": {"x": {"datum": 396}, "x2": {"datum": 949}, "y": {"datum": 0.1}}},
        {"data": {"values": [{}]}, "mark": {"type": "rule", "color": "#ff0000", "strokeWidth": 4, "strokeDash": [20, 9]},
         "encoding": {"x": {"datum": 396}, "x2": {"datum": 949}, "y": {"datum": -0.1}}},
        {"data": {"values": [{}]}, "mark": {"type": "rule", "color": "black", "strokeWidth": 4},
         "encoding": {"x": {"datum": 396}, "x2": {"datum": 949}, "y": {"datum": 0}}},
        {"data": {"values": [{}]}, "mark": {"type": "rule", "color": "black", "strokeWidth": 4.5},
         "encoding": {"x": {"datum": 396}, "y": {"datum": -0.558}, "y2": {"datum": 0.443}}},
        {"data": {"values": [{}]}, "mark": {"type": "text", "text": "(d)", "fontSize": 66, "font": "Liberation Serif", "baseline": "middle"},
         "encoding": {"x": {"datum": 915}, "y": {"datum": 0.4095}}}
      ]
    },
    {
      "width": 920, "height": 930,
      "layer": [
        {"data": {"name": "e"}, "mark": {"type": "line", "color": "black", "strokeWidth": 4.5, "interpolate": "monotone"},
         "encoding": {
           "x": {"field": "wl", "type": "quantitative", "scale": {"domain": [391.6, 970.39], "nice": false, "zero": false},
                 "axis": {"values": [400, 500, 600, 700, 800, 900], "format": "d", "offset": -702, "title": "Wavelength (nm)", "titleX": 446, "titleY": 708}},
           "y": {"field": "r", "type": "quantitative", "scale": {"domain": [-0.6816, 0.2214], "nice": false, "zero": false},
                 "axis": {"values": [-0.6, -0.5, -0.4, -0.3, -0.2, -0.1, 0, 0.1], "format": ".1f", "offset": -7, "title": "correlation coefficient", "titleX": -80, "titleY": 492}}}},
        {"data": {"values": [{}]}, "mark": {"type": "rule", "color": "#ff0000", "strokeWidth": 4, "strokeDash": [20, 9]},
         "encoding": {"x": {"datum": 396}, "x2": {"datum": 949}, "y": {"datum": 0.1}}},
        {"data": {"values": [{}]}, "mark": {"type": "rule", "color": "#ff0000", "strokeWidth": 4, "strokeDash": [20, 9]},
         "encoding": {"x": {"datum": 396}, "x2": {"datum": 949}, "y": {"datum": -0.1}}},
        {"data": {"values": [{}]}, "mark": {"type": "rule", "color": "black", "strokeWidth": 4},
         "encoding": {"x": {"datum": 396}, "x2": {"datum": 949}, "y": {"datum": 0}}},
        {"data": {"values": [{}]}, "mark": {"type": "rule", "color": "black", "strokeWidth": 4.5},
         "encoding": {"x": {"datum": 396}, "y": {"datum": -0.679}, "y2": {"datum": 0.166}}},
        {"data": {"values": [{}]}, "mark": {"type": "text", "text": "(e)", "fontSize": 66, "font": "Liberation Serif", "baseline": "middle"},
         "encoding": {"x": {"datum": 930.8}, "y": {"datum": 0.187}}}
      ]
    },
    {
      "width": 866, "height": 930,
      "layer": [
        {"data": {"name": "f"}, "mark": {"type": "line", "color": "black", "strokeWidth": 4.5, "interpolate": "monotone"},
         "encoding": {
           "x": {"field": "wl", "type": "quantitative", "scale": {"domain": [396, 949.64], "nice": false, "zero": false},
                 "axis": {"values": [400, 500, 600, 700, 800, 900], "format": "d", "offset": -465, "title": "Wavelength (nm)", "titleX": 432, "titleY": 471}},
           "y": {"field": "r", "type": "quantitative", "scale": {"domain": [-0.5345, 0.5345], "nice": false, "zero": false},
                 "axis": {"values": [-0.4, -0.2, 0, 0.2, 0.4], "format": ".1f", "offset": 0, "title": "correlation coefficient", "titleX": -80, "titleY": 487}}}},
        {"data": {"values": [{}]}, "mark": {"type": "rule", "color": "#ff0000", "strokeWidth": 4, "strokeDash": [20, 9]},
         "encoding": {"x": {"datum": 396}, "x2": {"datum": 949}, "y": {"datum": 0.1}}},
        {"data": {"values": [{}]}, "mark": {"type": "rule", "color": "#ff0000", "strokeWidth": 4, "strokeDash": [20, 9]},
         "encoding": {"x": {"datum": 396}, "x2": {"datum": 949}, "y": {"datum": -0.1}}},
        {"data": {"values": [{}]}, "mark": {"type": "rule", "color": "black", "strokeWidth": 4},
         "encoding": {"x": {"datum": 396}, "x2": {"datum": 949}, "y": {"datum": 0}}},
        {"data": {"values": [{}]}, "mark": {"type": "rule", "color": "black", "strokeWidth": 4.5},
         "encoding": {"x": {"datum": 396}, "y": {"datum": -0.534}, "y2": {"datum": 0.482}}},
        {"data": {"values": [{}]}, "mark": {"type": "text", "text": "(f)", "fontSize": 66, "font": "Liberation Serif", "baseline": "middle"},
         "encoding": {"x": {"datum": 912}, "y": {"datum": 0.4966}}}
      ]
    }
  ],
  "config": {
    "view": {"stroke": null},
    "font": "Liberation Serif",
    "axis": {
      "grid": false, "domain": false,
      "labelFont": "Liberation Serif", "labelFontSize": 29, "labelColor": "black",
      "labelPadding": 4, "labelFlush": false, "labelOverlap": false, "labelBound": false,
      "tickColor": "black", "tickSize": 5, "tickWidth": 2,
      "titleFont": "Liberation Serif", "titleFontSize": 28, "titleFontWeight": "normal", "titleColor": "black",
      "titleBaseline": "middle"
    },
    "axisY": {"titleAngle": -90}
  }
}
